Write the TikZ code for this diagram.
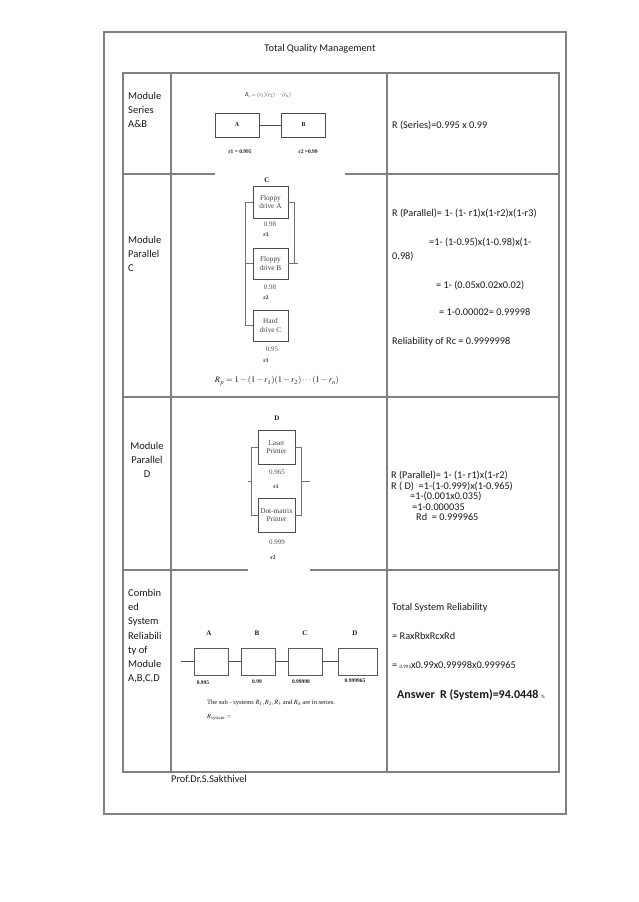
\documentclass[tikz,border=0pt]{standalone}
\usepackage{mathptmx}
\usepackage{fontspec}
\setmainfont{Carlito}
\newfontfamily\tms{Liberation Serif}
\usetikzlibrary{positioning,calc}
\definecolor{rule}{HTML}{808080}
\definecolor{ink}{HTML}{1A1A1A}
\definecolor{valc}{HTML}{555555}
\tikzset{
  frame/.style={draw=rule,line width=1.4pt},
  txt/.style={anchor=base west,inner sep=0pt,text=ink,font=\fontsize{10.3}{14.2}\selectfont},
  side/.style={anchor=north west,inner sep=0pt,align=left,text=ink,font=\fontsize{10.5}{14.2}\selectfont},
  part/.style={rectangle,draw=black!70,line width=0.8pt,fill=white,align=center,inner sep=1pt,
    font=\tms\fontsize{7.3}{8.3}\selectfont,text=black!75},
  unit/.style={part,draw=black!65,line width=1pt,minimum width=34pt,minimum height=27pt},
  wire/.style={draw=black!70,line width=0.7pt},
  bus/.style={draw=black!55,line width=0.8pt},
  val/.style={inner sep=0pt,text=valc,font=\tms\fontsize{7}{8}\selectfont},
  tag/.style={inner sep=0pt,text=ink,font=\tms\bfseries\fontsize{5.5}{6}\selectfont},
  head/.style={inner sep=0pt,text=ink,font=\tms\bfseries\fontsize{7}{8}\selectfont},
  eqn/.style={inner sep=0pt,text=ink,font=\tms\fontsize{8.5}{10}\selectfont},
}

\begin{document}
\begin{tikzpicture}[x=1pt,y=-1pt]
  \useasboundingbox (0,0) rectangle (638,902);
  \draw[frame] (104,32) rectangle (566,814);
  \draw[frame] (123,73) rectangle (559,772);
  \draw[frame] (171,73) -- (171,772) (387,73) -- (387,772);
  \draw[frame] (123,174) -- (215,174) (345,174) -- (559,174);
  \draw[frame] (123,397) -- (559,397);
  \draw[frame] (123,570) -- (248,570) (310,570) -- (559,570);
  \node[txt,anchor=base] (ttl) at (320,51.5) {Total Quality Management};

  % series A & B
  \node[side] (m1) at (128,92) {Module\\Series\\A\&B};
  \node[eqn,font=\tms\fontsize{5.5}{6}\selectfont] (rs) at (268,95) {$R_s=(r_1)(r_2)\cdots(r_n)$};
  \node[part,minimum width=44pt,minimum height=24pt,font=\tms\bfseries\fontsize{6}{7}\selectfont,text=ink] (a) at (237,125) {A};
  \node[part,minimum width=44pt,minimum height=24pt,font=\tms\bfseries\fontsize{6}{7}\selectfont,text=ink] (b) at (303.5,125) {B};
  \draw[wire] (a) -- (b);
  \node[tag] (ra) at (240,152) {r1 = 0.995};
  \node[tag] (rb) at (308,152) {r2 =0.99};
  \node[txt] (s1) at (392,128.5) {R (Series)=0.995 x 0.99};

  % parallel C
  \node[side] (m2) at (128,236) {Module\\Parallel\\C};
  \node[head] (c) at (267,180) {C};
  \node[part,minimum width=35pt,minimum height=32pt] (fa) at (270.5,202) {Floppy\\drive A};
  \node[part,minimum width=35pt,minimum height=31pt] (fb) at (270.5,263.5) {Floppy\\drive B};
  \node[part,minimum width=35pt,minimum height=31pt] (fc) at (270.5,325.5) {Hard\\drive C};
  \node[val] (va) at (270,224) {0.98};
  \node[tag] (r3) at (266,235) {r3};
  \node[val] (vb) at (270,287) {0.98};
  \node[tag] (r2) at (266,298) {r2};
  \node[val] (vc) at (272,349) {0.95};
  \node[tag] (r1) at (266,361) {r1};
  \coordinate (cin) at (245,263.5);
  \coordinate (cout) at (298,263.5);
  \draw[bus] (fa.west) -| ($(fc.west)+(-7,0)$) -- (fc.west);
  \draw[bus] (fb.west) -- (cin);
  \draw[bus] (fa.east) -| ($(fb.east)+(5.5,0)$);
  \draw[bus] (fb.east) -- (cout);
  \node[eqn] (rp) at (277,381) {$R_p=1-(1-r_1)(1-r_2)\cdots(1-r_n)$};
  \node[txt] at (392,216.5) {R (Parallel)= 1- (1- r1)x(1-r2)x(1-r3)};
  \node[txt] at (429,245.5) {=1- (1-0.95)x(1-0.98)x(1-};
  \node[txt] at (392,259.5) {0.98)};
  \node[txt] at (436,288.5) {= 1- (0.05x0.02x0.02)};
  \node[txt] at (439,315.5) {= 1-0.00002= 0.99998};
  \node[txt] at (392,344.5) {Reliability of Rc = 0.9999998};

  % parallel D
  \node[side,align=center,anchor=north] (m3) at (147,442) {Module\\Parallel\\D};
  \node[head] (d) at (277,418) {D};
  \node[part,minimum width=37pt,minimum height=34pt] (lp) at (276.5,447) {Laser\\Printer};
  \node[part,minimum width=37pt,minimum height=34pt] (dp) at (276.5,515) {Dot-matrix\\Printer};
  \node[val] (vl) at (277,472) {0.965};
  \node[tag] (rl) at (276,487) {r1};
  \node[val] (vd) at (277,542) {0.999};
  \node[tag] (rd) at (273,558) {r2};
  \draw[bus] (lp.west) -| ($(dp.west)+(-6,0)$) -- (dp.west);
  \draw[bus] (lp.east) -| ($(dp.east)+(6,0)$) -- (dp.east);
  \coordinate (jl) at ($(lp.west)!0.5!(dp.west)+(-6,0)$);
  \coordinate (jr) at ($(lp.east)!0.5!(dp.east)+(6,0)$);
  \coordinate (din) at (248,481);
  \coordinate (dout) at (310,481);
  \draw[bus] (din) -- (jl);
  \draw[bus] (jr) -- (dout);
  \node[txt] at (391,478.5) {R (Parallel)= 1- (1- r1)x(1-r2)};
  \node[txt] at (391,489.5) {R ( D)~ =1-(1-0.999)x(1-0.965)};
  \node[txt] at (410,499.5) {=1-(0.001x0.035)};
  \node[txt] at (412,510.5) {=1-0.000035};
  \node[txt] at (416,520.5) {Rd~ = 0.999965};

  % combined system
  \node[side] (m4) at (128,589) {Combin\\ed\\System\\Reliabili\\ty of\\Module\\A,B,C,D};
  \node[unit] (ua) at (211,661.5) {};
  \node[unit] (ub) at (258,661.5) {};
  \node[unit] (uc) at (305,661.5) {};
  \node[unit,minimum width=39pt] (ud) at (357.5,661.5) {};
  \coordinate (sin) at (181,661.5);
  \draw[wire] (sin) -- (ua) -- (ub) -- (uc) -- (ud);
  \node[head] at (209,633) {A};
  \node[head] at (257,633) {B};
  \node[head] at (305,633) {C};
  \node[head] at (355,633) {D};
  \node[tag] at (203,683) {0.995};
  \node[tag] at (257,682) {0.99};
  \node[tag] at (301,682) {0.99998};
  \node[tag] at (355,681) {0.999965};
  \node[eqn,anchor=west,font=\tms\fontsize{6.5}{7}\selectfont] at (207,703) {The sub - systems $R_1, R_2, R_3$ and $R_4$ are in series.};
  \node[eqn,anchor=west,font=\tms\fontsize{6.5}{7}\selectfont] at (207,717) {$R_{\mathrm{system}} =$};
  \node[txt] at (392,610.5) {Total System Reliability};
  \node[txt] at (392,639.5) {= RaxRbxRcxRd};
  \node[txt] at (392,668.5) {= {\fontsize{5}{6}\selectfont 0.995}x0.99x0.99998x0.999965};
  \node[txt,font=\bfseries\fontsize{12}{14}\selectfont] at (397,698) {Answer~ R (System)=94.0448 {\mdseries\fontsize{5}{6}\selectfont\%}};
  \node[txt] at (171,782.5) {Prof.Dr.S.Sakthivel};
\end{tikzpicture}
\end{document}
